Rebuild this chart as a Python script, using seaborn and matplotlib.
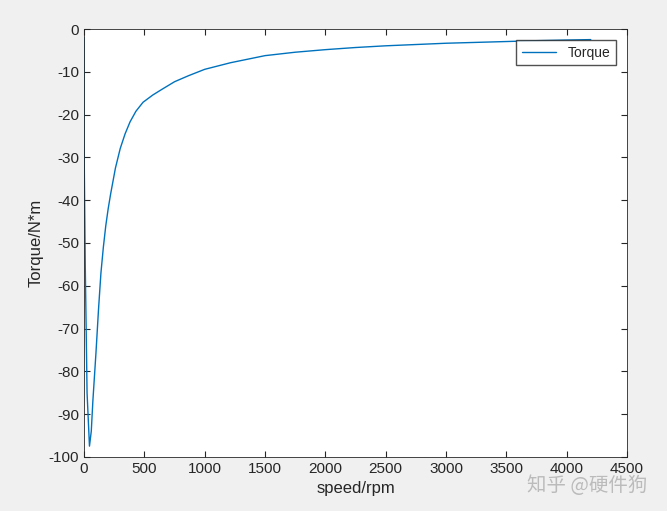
import matplotlib
matplotlib.use("Agg")
import matplotlib.pyplot as plt
import seaborn as sns
import pandas as pd

speed = [0, 0, 10, 25, 45, 60, 73, 99, 120, 140, 160, 180, 200, 220, 260, 300, 340, 381, 430,
         489, 570, 650, 750, 865, 1000, 1215, 1500, 1750, 2000, 2250, 2500, 2750, 3000,
         3250, 3500, 3750, 4000, 4200]
torque = [-2, -26, -55, -85, -97.5, -94, -87, -75.6, -65.5, -57, -51, -46, -42, -38.6, -32.5,
          -27.9, -24.5, -21.7, -19.2, -17.1, -15.4, -14, -12.3, -10.9, -9.4, -7.85, -6.2,
          -5.4, -4.8, -4.3, -3.9, -3.6, -3.3, -3.1, -2.9, -2.7, -2.55, -2.45]
x_ticks = [0, 500, 1000, 1500, 2000, 2500, 3000, 3500, 4000, 4500]
y_ticks = [0, -10, -20, -30, -40, -50, -60, -70, -80, -90, -100]

sns.set_style("ticks")
plt.rcParams["font.family"] = ["Liberation Sans", "Noto Sans CJK SC"]
plt.rcParams["axes.unicode_minus"] = False

df = pd.DataFrame({"speed": speed, "Torque": torque})

fig = plt.figure(figsize=(6.67, 5.11), dpi=100, facecolor="#f0f0f0")
ax = fig.add_axes([0.126, 0.106, 0.814, 0.837])
sns.lineplot(data=df, x="speed", y="Torque", ax=ax, color="#0072BD", lw=1,
             label="Torque", sort=False, estimator=None)

ax.set_xlim(0, 4500)
ax.set_ylim(-100, 0)
ax.set_xticks(x_ticks)
ax.set_yticks(y_ticks)
ax.tick_params(direction="in", labelsize=11, top=True, right=True, length=4)
for s in ax.spines.values():
    s.set_color("#262626")
    s.set_linewidth(0.6)
ax.set_xlabel("speed/rpm", fontsize=12)
ax.set_ylabel("Torque/N*m", fontsize=12)
ax.legend(loc="upper right", fancybox=False, edgecolor="#262626", fontsize=10,
          borderaxespad=0.8, handlelength=2.5)

fig.text(0.79, 0.04, "知乎 @硬件狗", fontsize=14, color="#bbbbbb",
         family=["Noto Sans CJK SC", "DejaVu Sans"])

fig.savefig("out.png", dpi=100, facecolor=fig.get_facecolor())
